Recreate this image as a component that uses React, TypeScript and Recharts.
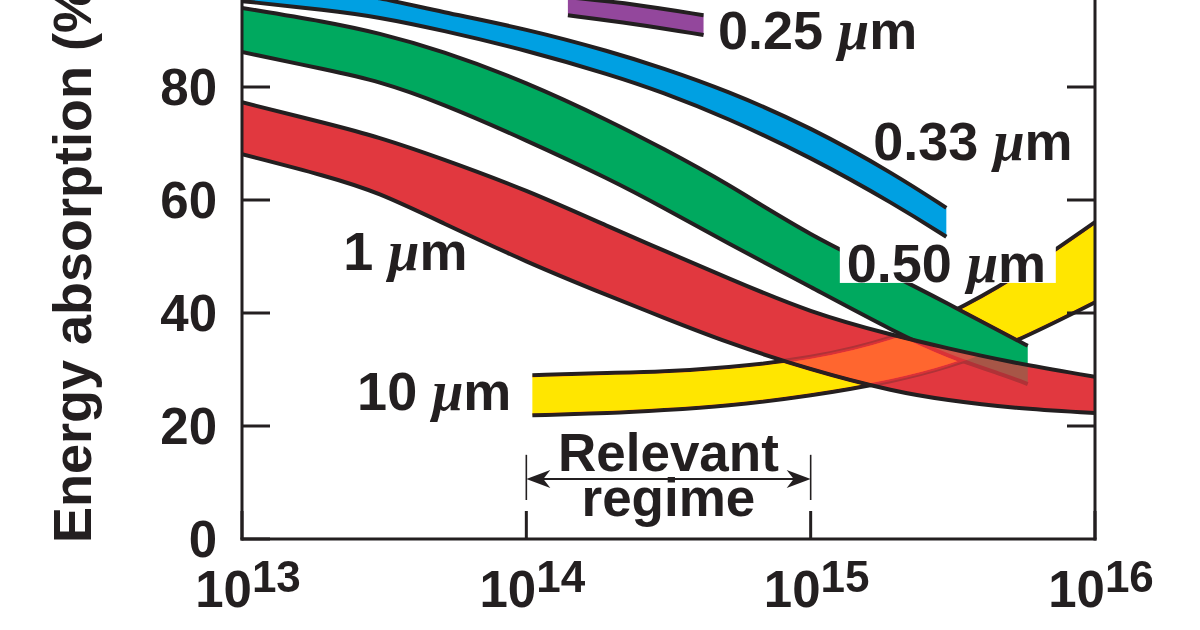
import { ComposedChart, Area, XAxis, YAxis, ReferenceLine, ReferenceDot } from "recharts";

const INK = "#231f20";
const SANS = "'Liberation Sans', Arial, Helvetica, sans-serif";
const SERIF = "'Liberation Serif', 'Times New Roman', serif";

const RED = "#e1393f";
const YELLOW = "#ffe600";
const GREEN = "#00a95f";
const BLUE = "#00a0e2";
const PURPLE = "#93479c";

// laser intensity (W/cm^2)
const intensity = [1e13, 2e13, 3e13, 5e13, 1e14, 2e14, 3e14, 5e14, 1e15, 2e15, 3e15, 5e15, 1e16];

// 1 um
const oneLow = [68.1, 64.2, 61.4, 56.1, 49.0, 42.8, 39.3, 34.9, 29.9, 26.0, 24.6, 23.2, 22.3];
const oneHigh = [77.3, 73.5, 71.2, 67.4, 61.8, 55.0, 51.2, 46.4, 40.0, 35.9, 33.8, 31.3, 28.7];

// 0.50 um
const halfX = [1e13, 2e13, 3e13, 5e13, 1e14, 2e14, 3e14, 5e14, 1e15, 2e15, 3e15, 5e15, 5.8e15];
const halfLow = [86.2, 83.0, 81.1, 77.2, 70.6, 63.5, 58.8, 52.6, 44.6, 36.5, 32.4, 28.7, 27.4];
const halfHigh = [94.0, 91.5, 89.6, 86.5, 80.9, 73.8, 69.2, 63.2, 53.6, 46.4, 41.8, 35.9, 34.2];

// 0.33 um
const thirdX = [1e13, 2e13, 3e13, 5e13, 1e14, 2e14, 3e14, 5e14, 1e15, 2e15, 3e15];
const thirdLow = [95.2, 93.6, 92.4, 90.1, 86.5, 82.1, 79.1, 74.7, 67.6, 59.1, 53.5];
const thirdHigh = [99.3, 97.2, 95.9, 93.3, 90.3, 86.2, 83.4, 79.5, 72.9, 64.4, 58.6];

// 0.25 um
const quarterX = [1.4e14, 2.4e14, 4.2e14];
const quarterLow = [92.7, 91.2, 89.2];
const quarterHigh = [95.9, 94.7, 92.7];

// 10 um
const tenX = [1.05e14, 2e14, 3e14, 5e14, 1e15, 2e15, 3e15, 5e15, 1e16];
const tenLow = [21.9, 22.3, 22.8, 23.5, 25.3, 28.0, 30.3, 34.3, 41.9];
const tenHigh = [29.0, 29.4, 29.6, 30.3, 31.9, 35.6, 39.6, 45.5, 56.1];

const decades = [1e13, 1e14, 1e15, 1e16];
const innerDecades = [1e14, 1e15];
const percentTicks = [0, 20, 40, 60, 80];
const innerPercent = [20, 40, 60, 80];

const band = (xs: number[], lo: number[], hi: number[]) =>
  xs.map((x, i) => ({ x, v: [lo[i], hi[i]] }));

const oneData = band(intensity, oneLow, oneHigh);
const halfData = band(halfX, halfLow, halfHigh);
const thirdData = band(thirdX, thirdLow, thirdHigh);
const quarterData = band(quarterX, quarterLow, quarterHigh);
const tenData = band(tenX, tenLow, tenHigh);

const LINE = 3;
const EDGE = 4;
const TICK = 28;
const textStyle = { fill: INK, fontFamily: SANS, fontWeight: 700 };

// ticks point into the frame; labels sit outside it
function PowerTick({ x, y, payload }: any) {
  const exp = Math.round(Math.log10(payload.value));
  return (
    <g>
      <line x1={x} x2={x} y1={y} y2={y - TICK} stroke={INK} strokeWidth={LINE} />
      <text x={x + 6} y={y + 68} textAnchor="middle" fontSize={51} {...textStyle}>
        10
        <tspan dy={-15} fontSize={44}>
          {exp}
        </tspan>
      </text>
    </g>
  );
}

function PercentTick({ x, y, payload }: any) {
  return (
    <g>
      <line x1={x + 25} x2={x + 25 + TICK} y1={y} y2={y} stroke={INK} strokeWidth={LINE} />
      <text x={x} y={y} dy="0.355em" textAnchor="end" fontSize={51} {...textStyle}>
        {payload.value}
      </text>
    </g>
  );
}

function TopTick({ x, y }: any) {
  return <line x1={x} x2={x} y1={y} y2={y + TICK + 3} stroke={INK} strokeWidth={LINE} />;
}

function RightTick({ x, y }: any) {
  return <line x1={x - TICK} x2={x} y1={y} y2={y} stroke={INK} strokeWidth={LINE} />;
}

function AxisTitle({ viewBox }: any) {
  const { x, y, height } = viewBox;
  return (
    <text
      transform={`translate(${x + 91}, ${y + height + 4}) rotate(-90)`}
      fontSize={54}
      {...textStyle}
    >
      Energy absorption (%)
    </text>
  );
}

function waveLabel(value: string, boxed = false) {
  return ({ cx, cy }: any) => (
    <g>
      {boxed && <rect x={cx - 7} y={cy - 41} width={216} height={42} fill="#fff" />}
      <text x={cx} y={cy} fontSize={54} {...textStyle}>
        {value}{" "}
        <tspan fontFamily={SERIF} fontStyle="italic" fontSize={56}>
          μ
        </tspan>
        m
      </text>
    </g>
  );
}

function RegimeText({ cx, cy }: any) {
  return (
    <text x={cx} y={cy} textAnchor="middle" fontSize={53} {...textStyle}>
      Relevant
      <tspan x={cx} dy={45}>
        regime
      </tspan>
    </text>
  );
}

function RegimeArrow({ x1, y1, x2, y2 }: any) {
  const head = 24;
  const half = 9;
  return (
    <g fill={INK}>
      <line x1={x1 + 10} y1={y1} x2={x2 - 10} y2={y2} stroke={INK} strokeWidth={2} />
      <path d={`M${x1},${y1} L${x1 + head},${y1 - half} L${x1 + head - 7},${y1} L${x1 + head},${y1 + half} Z`} />
      <path d={`M${x2},${y2} L${x2 - head},${y2 - half} L${x2 - head + 7},${y2} L${x2 - head},${y2 + half} Z`} />
    </g>
  );
}

const frame = { stroke: INK, strokeWidth: LINE, strokeLinecap: "square" as const };

const css = `
.dodge { mix-blend-mode: color-dodge; }
.recharts-area-curve { stroke-width: ${EDGE}px; }
`;

export default function App() {
  return (
    <div style={{ position: "absolute", left: 0, top: 0, width: 1200, height: 630, overflow: "hidden", background: "#fff" }}>
      {/* color-dodge lifts the red channel where 10 um crosses 1 um, so the overlap reads orange */}
      <style>{css}</style>
      <div style={{ position: "absolute", left: 0, top: -60 }}>
        <ComposedChart width={1200} height={700} margin={{ top: 33, right: 104, bottom: 0, left: 0 }}>
          {/* base of the 1 um band, so the translucent pass below stays solid red */}
          <Area data={oneData} dataKey="v" type="basis" fill={RED} fillOpacity={1} stroke="none" isAnimationActive={false} />
          <Area data={tenData} dataKey="v" type="basis" fill={YELLOW} fillOpacity={1} stroke={INK} strokeWidth={EDGE} isAnimationActive={false} />
          <Area data={halfData} dataKey="v" type="basis" fill={GREEN} fillOpacity={1} stroke={INK} strokeWidth={EDGE} isAnimationActive={false} />
          {/* translucent pass gives the orange / brown crossings */}
          <Area data={oneData} dataKey="v" type="basis" fill={RED} fillOpacity={0.74} stroke={INK} strokeWidth={EDGE} isAnimationActive={false} />
          <Area data={tenData} dataKey="v" type="basis" className="dodge" fill="#300000" fillOpacity={1} stroke="none" isAnimationActive={false} />
          <Area data={thirdData} dataKey="v" type="basis" fill={BLUE} fillOpacity={1} stroke={INK} strokeWidth={EDGE} isAnimationActive={false} />
          <Area data={quarterData} dataKey="v" type="basis" fill={PURPLE} fillOpacity={1} stroke={INK} strokeWidth={EDGE} isAnimationActive={false} />

          <ReferenceLine y={0} {...frame} />
          <ReferenceLine y={100} {...frame} />
          <ReferenceLine x={1e13} {...frame} />
          <ReferenceLine x={1e16} {...frame} />

          <ReferenceLine segment={[{ x: 1e14, y: 6.9 }, { x: 1e14, y: 14.9 }]} stroke={INK} strokeWidth={1.6} />
          <ReferenceLine segment={[{ x: 1e15, y: 6.9 }, { x: 1e15, y: 14.9 }]} stroke={INK} strokeWidth={1.6} />
          <ReferenceLine segment={[{ x: 1e14, y: 10.6 }, { x: 1e15, y: 10.6 }]} shape={RegimeArrow} />
          <ReferenceDot x={3.16e14} y={12.0} r={0} shape={RegimeText} />

          <ReferenceDot x={4.72e14} y={86.8} r={0} shape={waveLabel("0.25")} />
          <ReferenceDot x={1.66e15} y={67.1} r={0} shape={waveLabel("0.33")} />
          <ReferenceDot x={1.34e15} y={45.5} r={0} shape={waveLabel("0.50", true)} />
          <ReferenceDot x={2.27e13} y={47.6} r={0} shape={waveLabel("1")} />
          <ReferenceDot x={2.54e13} y={22.8} r={0} shape={waveLabel("10")} />

          <XAxis
            dataKey="x"
            type="number"
            scale="log"
            domain={[1e13, 1e16]}
            allowDataOverflow
            ticks={decades}
            height={101}
            tickSize={0}
            tickMargin={0}
            axisLine={false}
            tickLine={false}
            tick={<PowerTick />}
          />
          <XAxis
            xAxisId="top"
            orientation="top"
            type="number"
            scale="log"
            domain={[1e13, 1e16]}
            allowDataOverflow
            ticks={innerDecades}
            height={1}
            tickSize={0}
            tickMargin={0}
            axisLine={false}
            tickLine={false}
            tick={<TopTick />}
          />
          <YAxis
            type="number"
            domain={[0, 100]}
            allowDataOverflow
            ticks={percentTicks}
            width={242}
            tickSize={0}
            tickMargin={25}
            axisLine={false}
            tickLine={false}
            tick={<PercentTick />}
            label={<AxisTitle />}
          />
          <YAxis
            yAxisId="right"
            orientation="right"
            type="number"
            domain={[0, 100]}
            allowDataOverflow
            ticks={innerPercent}
            width={1}
            tickSize={0}
            tickMargin={0}
            axisLine={false}
            tickLine={false}
            tick={<RightTick />}
          />
        </ComposedChart>
      </div>
    </div>
  );
}
